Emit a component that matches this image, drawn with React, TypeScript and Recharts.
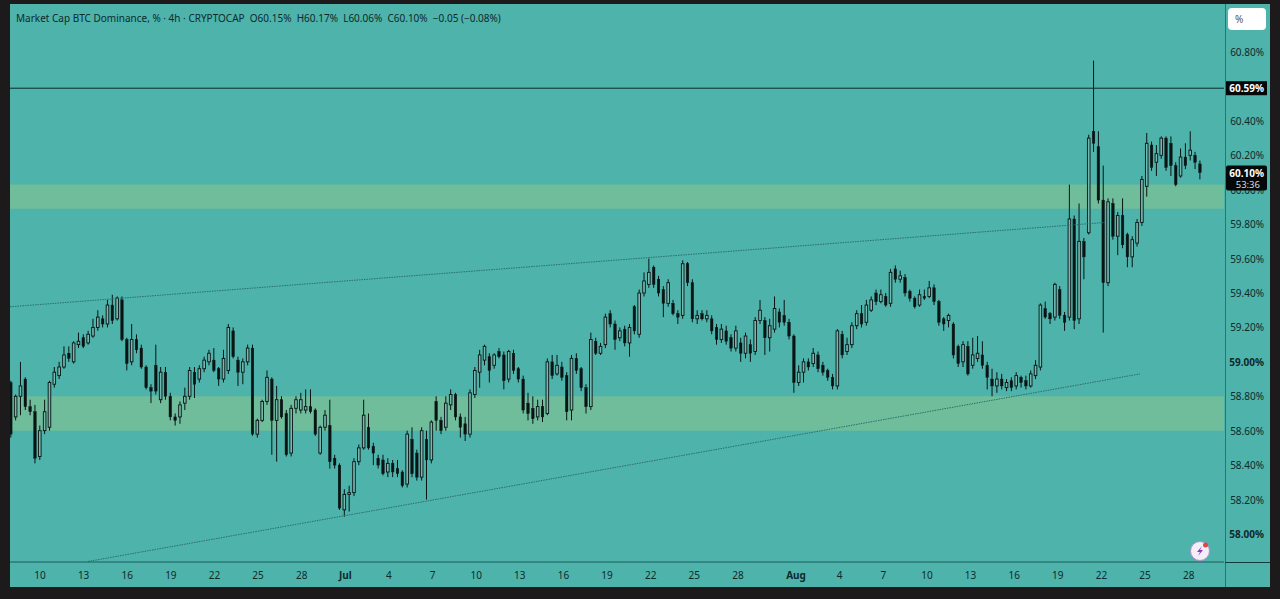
import { Bar, ComposedChart, ReferenceArea, ReferenceLine, XAxis, YAxis } from "recharts";

const opens = [
  58.88, 58.68, 58.80, 58.90, 58.74, 58.71, 58.45, 58.60, 58.62, 58.87,
  58.92, 58.97, 59.05, 59.00, 59.10, 59.14, 59.11, 59.15, 59.20, 59.25,
  59.22, 59.33, 59.25, 59.36, 59.13, 59.00, 59.13, 59.08, 58.97, 58.85,
  58.98, 58.78, 58.94, 58.80, 58.68, 58.68, 58.76, 58.80, 58.94, 58.90,
  58.96, 59.00, 59.01, 58.96, 58.90, 58.95, 59.18, 59.01, 58.94, 59.00,
  59.08, 58.58, 58.66, 58.77, 58.90, 58.66, 58.78, 58.70, 58.47, 58.73,
  58.72, 58.72, 58.74, 58.72, 58.47, 58.62, 58.63, 58.44, 58.40, 58.14,
  58.23, 58.24, 58.42, 58.50, 58.62, 58.51, 58.44, 58.43, 58.36, 58.41,
  58.38, 58.36, 58.29, 58.55, 58.47, 58.33, 58.55, 58.43, 58.77, 58.66,
  58.62, 58.75, 58.81, 58.68, 58.64, 58.58, 58.81, 58.94, 59.01, 59.03,
  58.98, 59.06, 59.04, 58.90, 59.05, 58.96, 58.90, 58.76, 58.73, 58.68,
  58.74, 58.70, 59.00, 58.93, 58.97, 58.92, 58.72, 59.02, 58.96, 58.85,
  58.74, 59.12, 59.05, 59.10, 59.28, 59.22, 59.14, 59.19, 59.11, 59.32,
  59.16, 59.40, 59.45, 59.55, 59.48, 59.42, 59.34, 59.34, 59.28, 59.27,
  59.57, 59.46, 59.25, 59.28, 59.25, 59.25, 59.20, 59.13, 59.18, 59.14,
  59.08, 59.11, 59.05, 59.10, 59.06, 59.24, 59.24, 59.14, 59.19, 59.29,
  59.27, 59.23, 59.15, 58.88, 58.94, 59.00, 58.99, 59.04, 58.98, 58.95,
  58.91, 58.86, 59.16, 59.06, 59.10, 59.21, 59.28, 59.23, 59.30, 59.40,
  59.35, 59.38, 59.34, 59.54, 59.48, 59.49, 59.41, 59.37, 59.33, 59.38,
  59.38, 59.43, 59.35, 59.25, 59.24, 59.22, 59.09, 59.00, 59.09, 58.98,
  59.02, 59.04, 58.98, 58.90, 58.86, 58.90, 58.85, 58.89, 58.86, 58.91,
  58.89, 58.86, 58.92, 58.97, 59.31, 59.28, 59.26, 59.42, 59.27, 59.26,
  59.83, 59.25, 59.70, 59.75, 60.34, 60.25, 59.94, 59.46, 59.92, 59.73,
  59.85, 59.74, 59.61, 59.69, 59.81, 60.02, 60.26, 60.16, 60.20, 60.30,
  60.27, 60.14, 60.08, 60.19, 60.20, 60.20, 60.15,
];
const closes = [
  58.58, 58.80, 58.86, 58.74, 58.71, 58.44, 58.60, 58.71, 58.88, 58.94,
  58.97, 59.04, 59.02, 59.11, 59.12, 59.09, 59.16, 59.20, 59.26, 59.22,
  59.33, 59.24, 59.37, 59.13, 58.99, 59.13, 59.07, 58.97, 58.85, 58.83,
  58.83, 58.94, 58.80, 58.68, 58.66, 58.75, 58.80, 58.95, 58.87, 58.96,
  59.01, 59.05, 58.95, 58.90, 59.02, 59.20, 59.03, 58.94, 59.00, 59.08,
  58.58, 58.66, 58.77, 58.91, 58.66, 58.78, 58.68, 58.46, 58.73, 58.78,
  58.78, 58.74, 58.71, 58.58, 58.62, 58.69, 58.42, 58.40, 58.15, 58.23,
  58.24, 58.42, 58.50, 58.69, 58.50, 58.47, 58.40, 58.35, 58.41, 58.36,
  58.35, 58.28, 58.58, 58.35, 58.33, 58.60, 58.43, 58.65, 58.66, 58.60,
  58.76, 58.81, 58.68, 58.62, 58.58, 58.82, 58.95, 59.04, 59.09, 58.95,
  59.04, 59.03, 58.89, 59.06, 58.95, 58.90, 58.72, 58.70, 58.67, 58.74,
  58.68, 59.00, 58.92, 58.98, 58.91, 58.71, 59.02, 58.95, 58.85, 58.74,
  59.13, 59.05, 59.09, 59.26, 59.22, 59.13, 59.18, 59.11, 59.20, 59.18,
  59.40, 59.47, 59.52, 59.45, 59.40, 59.34, 59.46, 59.28, 59.26, 59.57,
  59.46, 59.25, 59.27, 59.25, 59.27, 59.18, 59.13, 59.19, 59.12, 59.08,
  59.18, 59.05, 59.15, 59.05, 59.24, 59.30, 59.14, 59.21, 59.31, 59.23,
  59.23, 59.15, 58.88, 58.94, 59.00, 58.97, 59.05, 58.96, 58.94, 58.91,
  58.86, 59.18, 59.04, 59.10, 59.21, 59.28, 59.22, 59.33, 59.36, 59.35,
  59.39, 59.33, 59.52, 59.48, 59.50, 59.40, 59.37, 59.32, 59.39, 59.37,
  59.43, 59.35, 59.23, 59.22, 59.27, 59.04, 58.99, 59.10, 58.93, 59.04,
  59.05, 58.98, 58.91, 58.86, 58.90, 58.86, 58.88, 58.85, 58.92, 58.88,
  58.86, 58.93, 58.98, 59.33, 59.26, 59.25, 59.45, 59.27, 59.23, 59.83,
  59.24, 59.70, 59.61, 60.30, 60.27, 59.94, 59.46, 59.93, 59.73, 59.85,
  59.68, 59.61, 59.71, 59.81, 60.06, 60.27, 60.13, 60.21, 60.30, 60.13,
  60.14, 60.03, 60.19, 60.14, 60.23, 60.16, 60.10,
];
const highs = [
  58.89, 58.81, 59.00, 58.91, 58.78, 58.75, 58.63, 58.78, 58.89, 58.97,
  59.00, 59.09, 59.09, 59.12, 59.17, 59.16, 59.18, 59.25, 59.30, 59.27,
  59.36, 59.39, 59.38, 59.38, 59.14, 59.22, 59.16, 59.10, 58.98, 58.87,
  59.10, 58.97, 58.97, 58.82, 58.70, 58.77, 58.85, 58.97, 58.97, 58.98,
  59.03, 59.07, 59.08, 58.97, 59.07, 59.22, 59.20, 59.03, 59.02, 59.10,
  59.10, 58.67, 58.78, 58.95, 58.91, 58.86, 58.80, 58.72, 58.75, 58.80,
  58.82, 58.84, 58.84, 58.73, 58.63, 58.72, 58.78, 58.46, 58.41, 58.26,
  58.28, 58.44, 58.52, 58.78, 58.70, 58.53, 58.46, 58.46, 58.44, 58.43,
  58.43, 58.37, 58.60, 58.62, 58.49, 58.62, 58.60, 58.66, 58.80, 58.68,
  58.80, 58.84, 58.82, 58.70, 58.68, 58.84, 58.97, 59.07, 59.10, 59.05,
  59.05, 59.08, 59.06, 59.07, 59.07, 58.97, 58.92, 58.82, 58.80, 58.78,
  58.78, 59.02, 59.04, 59.04, 59.00, 58.94, 59.04, 59.05, 58.97, 58.87,
  59.17, 59.14, 59.11, 59.28, 59.30, 59.24, 59.20, 59.21, 59.22, 59.33,
  59.42, 59.52, 59.60, 59.56, 59.50, 59.44, 59.48, 59.36, 59.30, 59.59,
  59.58, 59.48, 59.30, 59.30, 59.30, 59.27, 59.22, 59.22, 59.21, 59.16,
  59.21, 59.14, 59.17, 59.13, 59.26, 59.36, 59.26, 59.25, 59.38, 59.31,
  59.36, 59.25, 59.16, 58.98, 59.02, 59.02, 59.08, 59.06, 59.00, 58.96,
  58.93, 59.19, 59.18, 59.14, 59.23, 59.30, 59.33, 59.36, 59.38, 59.42,
  59.42, 59.40, 59.54, 59.56, 59.53, 59.51, 59.42, 59.38, 59.42, 59.42,
  59.47, 59.45, 59.36, 59.26, 59.28, 59.23, 59.10, 59.12, 59.12, 59.14,
  59.15, 59.12, 59.00, 58.96, 58.94, 58.93, 58.90, 58.91, 58.94, 58.92,
  58.92, 58.95, 59.01, 59.34, 59.35, 59.29, 59.46, 59.44, 59.29, 60.03,
  59.85, 59.92, 59.72, 60.32, 60.75, 60.34, 60.14, 59.95, 59.95, 59.87,
  59.95, 59.75, 59.73, 59.83, 60.08, 60.33, 60.28, 60.26, 60.31, 60.31,
  60.31, 60.16, 60.24, 60.27, 60.34, 60.22, 60.17,
];
const lows = [
  58.56, 58.66, 58.69, 58.72, 58.69, 58.41, 58.43, 58.58, 58.60, 58.85,
  58.90, 58.96, 59.00, 58.99, 59.08, 59.08, 59.10, 59.14, 59.18, 59.20,
  59.20, 59.22, 59.24, 59.12, 58.95, 58.98, 59.05, 58.96, 58.84, 58.76,
  58.81, 58.76, 58.78, 58.66, 58.63, 58.64, 58.72, 58.78, 58.79, 58.88,
  58.94, 58.98, 58.94, 58.86, 58.88, 58.93, 59.02, 58.86, 58.87, 58.98,
  58.57, 58.56, 58.65, 58.75, 58.46, 58.42, 58.67, 58.45, 58.45, 58.70,
  58.70, 58.70, 58.70, 58.57, 58.46, 58.60, 58.38, 58.38, 58.14, 58.10,
  58.13, 58.22, 58.40, 58.49, 58.49, 58.40, 58.38, 58.34, 58.33, 58.33,
  58.33, 58.27, 58.27, 58.33, 58.31, 58.31, 58.20, 58.41, 58.60, 58.58,
  58.60, 58.72, 58.66, 58.56, 58.54, 58.56, 58.79, 58.85, 58.98, 58.88,
  58.96, 59.02, 58.84, 58.88, 58.93, 58.88, 58.70, 58.66, 58.64, 58.66,
  58.65, 58.69, 58.90, 58.92, 58.89, 58.66, 58.66, 58.93, 58.83, 58.70,
  58.72, 59.04, 59.04, 59.08, 59.20, 59.07, 59.12, 59.09, 59.03, 59.16,
  59.14, 59.38, 59.43, 59.43, 59.38, 59.26, 59.32, 59.27, 59.22, 59.25,
  59.44, 59.23, 59.22, 59.24, 59.23, 59.16, 59.10, 59.11, 59.10, 59.06,
  59.06, 59.00, 59.02, 59.00, 59.04, 59.22, 59.04, 59.06, 59.17, 59.20,
  59.21, 59.13, 58.82, 58.86, 58.88, 58.95, 58.97, 58.94, 58.92, 58.89,
  58.84, 58.84, 59.02, 59.04, 59.08, 59.19, 59.20, 59.21, 59.29, 59.33,
  59.34, 59.32, 59.32, 59.46, 59.46, 59.38, 59.35, 59.31, 59.32, 59.36,
  59.37, 59.33, 59.21, 59.18, 59.20, 59.02, 58.97, 58.97, 58.92, 58.96,
  59.00, 58.96, 58.84, 58.80, 58.82, 58.84, 58.83, 58.83, 58.84, 58.85,
  58.84, 58.85, 58.90, 58.95, 59.25, 59.22, 59.24, 59.25, 59.18, 59.24,
  59.19, 59.22, 59.48, 59.74, 60.22, 59.92, 59.17, 59.44, 59.71, 59.62,
  59.66, 59.55, 59.55, 59.67, 59.79, 59.96, 60.11, 60.08, 60.18, 60.11,
  60.08, 60.02, 60.07, 60.12, 60.17, 60.12, 60.06,
];

const xTicks = [10, 13, 16, 19, 22, 25, 28, 31, 34, 37, 40, 43, 46, 49, 52, 55, 58, 62, 65, 68, 71, 74, 77, 80, 83, 86, 89];
const xLabels = ["10", "13", "16", "19", "22", "25", "28", "Jul", "4", "7", "10", "13", "16", "19", "22", "25", "28", "Aug", "4", "7", "10", "13", "16", "19", "22", "25", "28"];
const priceTicks = [60.8, 60.4, 60.2, 60, 59.8, 59.6, 59.4, 59.2, 59, 58.8, 58.6, 58.4, 58.2, 58];
const lastLevel = 60.59;
const lastClose = 60.1;
const countdown = "53:36";
const upperBand = [59.89, 60.03];
const lowerBand = [58.6, 58.8];
const upperTrend = [{ x: 7.94, y: 59.32 }, { x: 83.25, y: 59.81 }];
const lowerTrend = [{ x: 13.3, y: 57.84 }, { x: 85.65, y: 58.93 }];

const TEAL = "#4db3ab";
const DARK = "#0d2a2b";
const INK = "#0a1414";

const data = closes.map((c, i) => ({
  t: 8 + i * 0.33244,
  range: [lows[i], highs[i]],
  open: opens[i],
  close: c,
}));

function Candle(props: any) {
  const { x, y, width, height, payload } = props;
  const [low, high] = payload.range;
  const perUnit = height / (high - low);
  const cx = x + width / 2;
  const top = y + (high - Math.max(payload.open, payload.close)) * perUnit;
  const bodyH = Math.max(Math.abs(payload.open - payload.close) * perUnit, 1);
  const up = payload.close >= payload.open;
  return (
    <g>
      <line x1={cx} x2={cx} y1={y} y2={y + height} stroke={INK} strokeWidth={1} />
      <rect x={x} y={top} width={width} height={bodyH} fill={up ? "#74b8b0" : INK} stroke={INK} strokeWidth={up ? 0.9 : 0.4} />
    </g>
  );
}

function PriceTick(props: any) {
  const { x, y, payload } = props;
  const v = payload.value;
  const label = `${v.toFixed(2)}%`;
  if (v === lastLevel) {
    return (
      <g>
        <rect x={x - 6} y={y - 7} width={41} height={14} fill="#050808" />
        <text x={x + 32} y={y + 4} textAnchor="end" fontSize={10} fontWeight={700} fill="#fff" fontFamily="Noto Sans">{label}</text>
      </g>
    );
  }
  if (v === lastClose) {
    return (
      <g>
        <rect x={x - 6} y={y - 7} width={41} height={25} rx={2} fill="#050808" />
        <text x={x + 32} y={y + 4} textAnchor="end" fontSize={10} fontWeight={700} fill="#fff" fontFamily="Noto Sans">{label}</text>
        <text x={x + 28} y={y + 15} textAnchor="end" fontSize={9.5} fill="#d8dcdc" fontFamily="Noto Sans">{countdown}</text>
      </g>
    );
  }
  return (
    <text x={x + 32} y={y + 4} textAnchor="end" fontSize={10} fontWeight={v === 59 || v === 58 ? 700 : 400} fill={DARK} fontFamily="Noto Sans">{label}</text>
  );
}

function TimeTick(props: any) {
  const { x, y, index } = props;
  const label = xLabels[index];
  return (
    <text x={x} y={y + 9} textAnchor="middle" fontSize={10} fontWeight={label === "Jul" || label === "Aug" ? 700 : 400} fill={DARK} fontFamily="Noto Sans">{label}</text>
  );
}

export default function App() {
  return (
    <div style={{ position: "absolute", left: 0, top: 0, width: 1280, height: 599, background: "#1c1a1a", overflow: "hidden" }}>
      <div style={{ position: "absolute", left: 10, top: 4, width: 1260, height: 583, background: TEAL }} />
      <div style={{ position: "absolute", left: 1225, top: 4, width: 1, height: 583, background: "#2c7470" }} />
      <div style={{ position: "absolute", left: 1225, top: 562, width: 45, height: 1, background: "#123b3b" }} />
      <div style={{ position: "absolute", left: 0, top: 0 }}>
        <ComposedChart
          width={1280}
          height={599}
          data={data}
          margin={{ top: 13, left: 10, right: 10, bottom: 12 }}
        >
          <XAxis
            dataKey="t"
            type="number"
            domain={[7.937, 91.43]}
            allowDataOverflow
            ticks={xTicks}
            interval={0}
            height={25}
            tick={<TimeTick />}
            tickLine={false}
            axisLine={{ stroke: "#1d5b5a" }}
          />
          <YAxis
            orientation="right"
            type="number"
            domain={[57.837, 61.027]}
            allowDataOverflow
            ticks={[...priceTicks, lastLevel, lastClose]}
            interval={0}
            width={46}
            tick={<PriceTick />}
            tickLine={false}
            axisLine={false}
          />
          <ReferenceArea y1={upperBand[0]} y2={upperBand[1]} fill="#6fbd9a" fillOpacity={1} stroke="none" />
          <ReferenceArea y1={lowerBand[0]} y2={lowerBand[1]} fill="#6fbd9a" fillOpacity={1} stroke="none" />
          <ReferenceLine segment={upperTrend} stroke="#2a6f6c" strokeDasharray="1.5 1" />
          <ReferenceLine segment={lowerTrend} stroke="#2a6f6c" strokeDasharray="1.5 1" />
          <ReferenceLine y={lastLevel} stroke={DARK} strokeWidth={1} />
          <Bar dataKey="range" barSize={2.6} isAnimationActive={false} shape={<Candle />} />
        </ComposedChart>
      </div>
      <div style={{ position: "absolute", left: 16, top: 11, font: "10px 'Noto Sans', sans-serif", color: DARK, whiteSpace: "pre" }}>
        {"Market Cap BTC Dominance, % · 4h · CRYPTOCAP  O60.15%  H60.17%  L60.06%  C60.10%  −0.05 (−0.08%)"}
      </div>
      <div style={{ position: "absolute", left: 1228, top: 8, width: 38, height: 22, borderRadius: 4, background: "#fff", font: "10px 'Noto Sans', sans-serif", color: "#555", lineHeight: "22px", textIndent: 7 }}>%</div>
      <svg style={{ position: "absolute", left: 1188, top: 539 }} width={24} height={24}>
        <circle cx={12} cy={12} r={9.5} fill="#f4eef8" stroke="#b58fd0" strokeWidth={1} />
        <path d="M14 7 L9 13 L12 13 L10 17 L15 11 L12 11 Z" fill="#8a3fb0" />
        <circle cx={17.5} cy={6} r={2.5} fill="#e0483e" />
      </svg>
    </div>
  );
}
